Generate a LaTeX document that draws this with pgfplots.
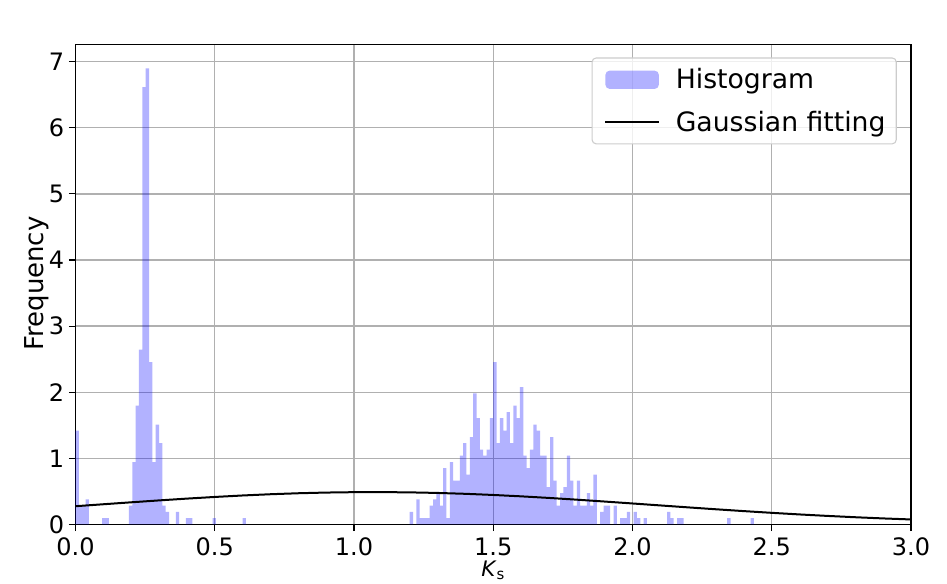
\documentclass[border=0pt]{standalone}
\usepackage{fontspec}
\setmainfont{DejaVu Sans}
\usepackage{pgfplots}
\pgfplotsset{compat=1.18}

\definecolor{gridgray}{RGB}{176,176,176}
\definecolor{legedge}{RGB}{204,204,204}

\begin{document}
\begin{tikzpicture}
\useasboundingbox (-56.625pt,-44.625pt) rectangle (653.625pt,393.375pt);
\begin{axis}[
    at={(0pt,0pt)}, anchor=south west,
    scale only axis,
    width=626.6pt, height=360pt,
    xmin=0, xmax=3,
    ymin=0, ymax=7.26,
    enlargelimits=false,
    xtick={0,0.5,1,1.5,2,2.5,3},
    ytick={0,1,2,3,4,5,6,7},
    xticklabel style={inner sep=1pt, /pgf/number format/.cd, fixed, fixed zerofill, precision=1},
    xticklabel shift=4pt,
    /pgf/number format/assume math mode=true,
    tick label style={font=\fontsize{18}{21}\selectfont},
    xtick pos=bottom, ytick pos=left,
    tick align=outside,
    major tick length=5pt,
    every tick/.style={black, line width=0.8pt},
    grid=major,
    major grid style={gridgray, line width=1pt},
    axis line style={black, line width=1pt},
    ylabel={Frequency},
    ylabel style={at={(axis description cs:-0.046,0.502)}, anchor=center, rotate=0,
                  font=\fontsize{19.5}{23}\selectfont},
    xlabel={\textit{K}\textsubscript{s}},
    xlabel style={at={(axis description cs:0.5,-0.075)}, anchor=north, inner sep=0pt,
                  font=\fontsize{16}{19}\selectfont},
    legend style={at={(axis description cs:0.983,0.973)}, anchor=north east,
                  draw=legedge, rounded corners=3pt, fill=white, fill opacity=0.8,
                  text opacity=1, line width=0.8pt,
                  font=\fontsize{20}{24}\selectfont,
                  inner xsep=6pt, inner ysep=6pt, row sep=11pt,
                  /tikz/every odd column/.append style={column sep=10pt}},
    legend cell align=left,
]
\addplot[ybar, bar width=0.012, bar shift=0pt, fill=blue, fill opacity=0.3, draw=none,
    legend image code/.code={\path (0pt,0pt); \fill[blue, fill opacity=0.3] (4pt,-6.8pt) rectangle (44pt,6.8pt);}]
coordinates {
(0.006,1.418) (0.018,0.284) (0.030,0.284) (0.042,0.378)
(0.102,0.095) (0.114,0.095)
(0.198,0.284) (0.210,0.945) (0.222,1.796) (0.234,2.646) (0.246,6.615)
(0.258,6.899) (0.270,2.457) (0.282,0.945) (0.294,1.512) (0.306,1.229)
(0.318,0.284) (0.330,0.189) (0.366,0.189) (0.402,0.095) (0.414,0.095)
(0.498,0.095) (0.606,0.095)
(1.206,0.189) (1.230,0.378) (1.242,0.095) (1.254,0.095) (1.266,0.095)
(1.278,0.284) (1.290,0.378) (1.302,0.473) (1.314,0.284) (1.326,0.851)
(1.338,0.095) (1.350,0.945) (1.362,0.662) (1.374,0.662) (1.386,1.040)
(1.398,1.229) (1.410,0.756) (1.422,1.323) (1.434,1.985) (1.446,1.607)
(1.458,1.134) (1.470,1.040) (1.482,1.134) (1.494,1.607) (1.506,2.457)
(1.518,1.229) (1.530,1.607) (1.542,1.418) (1.554,1.701) (1.566,1.229)
(1.578,1.796) (1.590,1.607) (1.602,2.079) (1.614,1.040) (1.626,0.851)
(1.638,1.134) (1.650,1.512) (1.662,1.418) (1.674,1.040) (1.686,1.040)
(1.698,0.567) (1.710,1.323) (1.722,0.662) (1.734,0.284) (1.746,0.473)
(1.758,0.567) (1.770,1.040) (1.782,0.662) (1.794,0.284) (1.806,0.662)
(1.818,0.284) (1.830,0.284) (1.842,0.473) (1.854,0.284) (1.866,0.756)
(1.890,0.189) (1.902,0.284) (1.914,0.284) (1.938,0.284)
(1.962,0.095) (1.974,0.095) (1.986,0.189) (2.010,0.189) (2.022,0.095)
(2.046,0.095) (2.130,0.189) (2.142,0.095) (2.166,0.095) (2.178,0.095)
(2.346,0.095) (2.430,0.095)
};
\addlegendentry{Histogram}
\addplot[black, line width=1.5pt,
    legend image code/.code={\draw[black, line width=1.5pt] (4pt,0pt) -- (44pt,0pt);}]
coordinates {
(0.0,0.2764) (0.1,0.3061) (0.2,0.3356) (0.3,0.3643) (0.4,0.3915)
(0.5,0.4165) (0.6,0.4388) (0.7,0.4576) (0.8,0.4725) (0.9,0.4830)
(1.0,0.4888) (1.1,0.4898) (1.2,0.4859) (1.3,0.4772) (1.4,0.4640)
(1.5,0.4467) (1.6,0.4258) (1.7,0.4018) (1.8,0.3754) (1.9,0.3472)
(2.0,0.3180) (2.1,0.2883) (2.2,0.2588) (2.3,0.2300) (2.4,0.2024)
(2.5,0.1763) (2.6,0.1520) (2.7,0.1298) (2.8,0.1097) (2.9,0.0918)
(3.0,0.0761)
};
\addlegendentry{Gaussian fitting}
\end{axis}
\end{tikzpicture}
\end{document}
